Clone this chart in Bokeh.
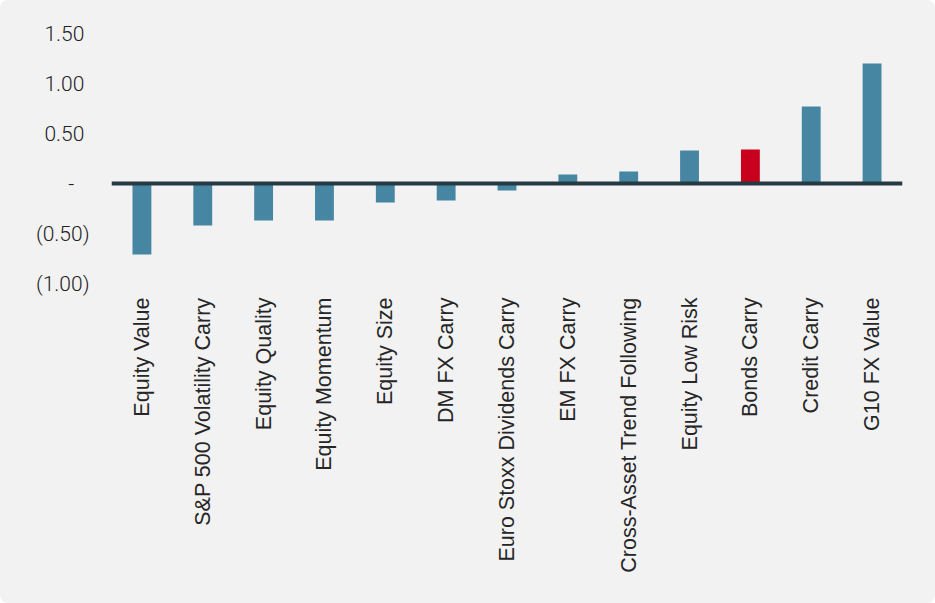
from bokeh.plotting import figure
from bokeh.models import Range1d, FixedTicker, Span, ColumnDataSource
from bokeh.embed import file_html
from bokeh.resources import INLINE

categories = ["Equity Value", "S&P 500 Volatility Carry", "Equity Quality", "Equity Momentum",
              "Equity Size", "DM FX Carry", "Euro Stoxx Dividends Carry", "EM FX Carry",
              "Cross-Asset Trend Following", "Equity Low Risk", "Bonds Carry", "Credit Carry",
              "G10 FX Value"]
values = [-0.71, -0.42, -0.37, -0.37, -0.19, -0.17, -0.07, 0.09, 0.12, 0.33, 0.34, 0.77, 1.20]
highlight = "Bonds Carry"

tick_values = [-1.0, -0.5, 0.0, 0.5, 1.0, 1.5]
tick_labels = ["(1.00)", "(0.50)", "-\u00a0\u00a0\u00a0", "0.50\u00a0", "1.00\u00a0", "1.50\u00a0"]

BLUE = "#4686a3"
RED = "#c8001e"
BG = "#f2f2f2"

colors = [RED if c == highlight else BLUE for c in categories]
src = ColumnDataSource(dict(x=categories, top=values, color=colors))

p = figure(width=935, height=603, x_range=categories, y_range=Range1d(-1.0, 1.6),
           output_backend="svg", toolbar_location=None,
           min_border_left=111, min_border_right=33, min_border_top=23, min_border_bottom=320)

p.styles = {"background-color": BG, "border-radius": "8px"}
p.background_fill_color = None
p.border_fill_color = None
p.outline_line_color = None
p.xgrid.grid_line_color = None
p.ygrid.grid_line_color = None

p.vbar(x="x", top="top", bottom=0, width=0.31, fill_color="color", line_color=None, source=src)

p.add_layout(Span(location=0, dimension="width", line_color="#263a43", line_width=4))

yax = p.yaxis[0]
yax.ticker = FixedTicker(ticks=tick_values)
yax.major_label_overrides = dict(zip(tick_values, tick_labels))
yax.axis_line_color = None
yax.major_tick_line_color = None
yax.minor_tick_line_color = None
yax.major_tick_out = 0
yax.major_label_standoff = 22
yax.major_label_text_font = "Roboto Light"
yax.major_label_text_font_size = "21px"
yax.major_label_text_color = "#222222"

xax = p.xaxis[0]
xax.axis_line_color = None
xax.major_tick_line_color = None
xax.minor_tick_line_color = None
xax.major_tick_out = 0
xax.major_label_orientation = 1.5708
xax.major_label_standoff = 14
xax.major_label_text_font = "Liberation Sans"
xax.major_label_text_font_size = "21.5px"
xax.major_label_text_color = "#262626"

open("out.html", "w").write(file_html(p, INLINE))
